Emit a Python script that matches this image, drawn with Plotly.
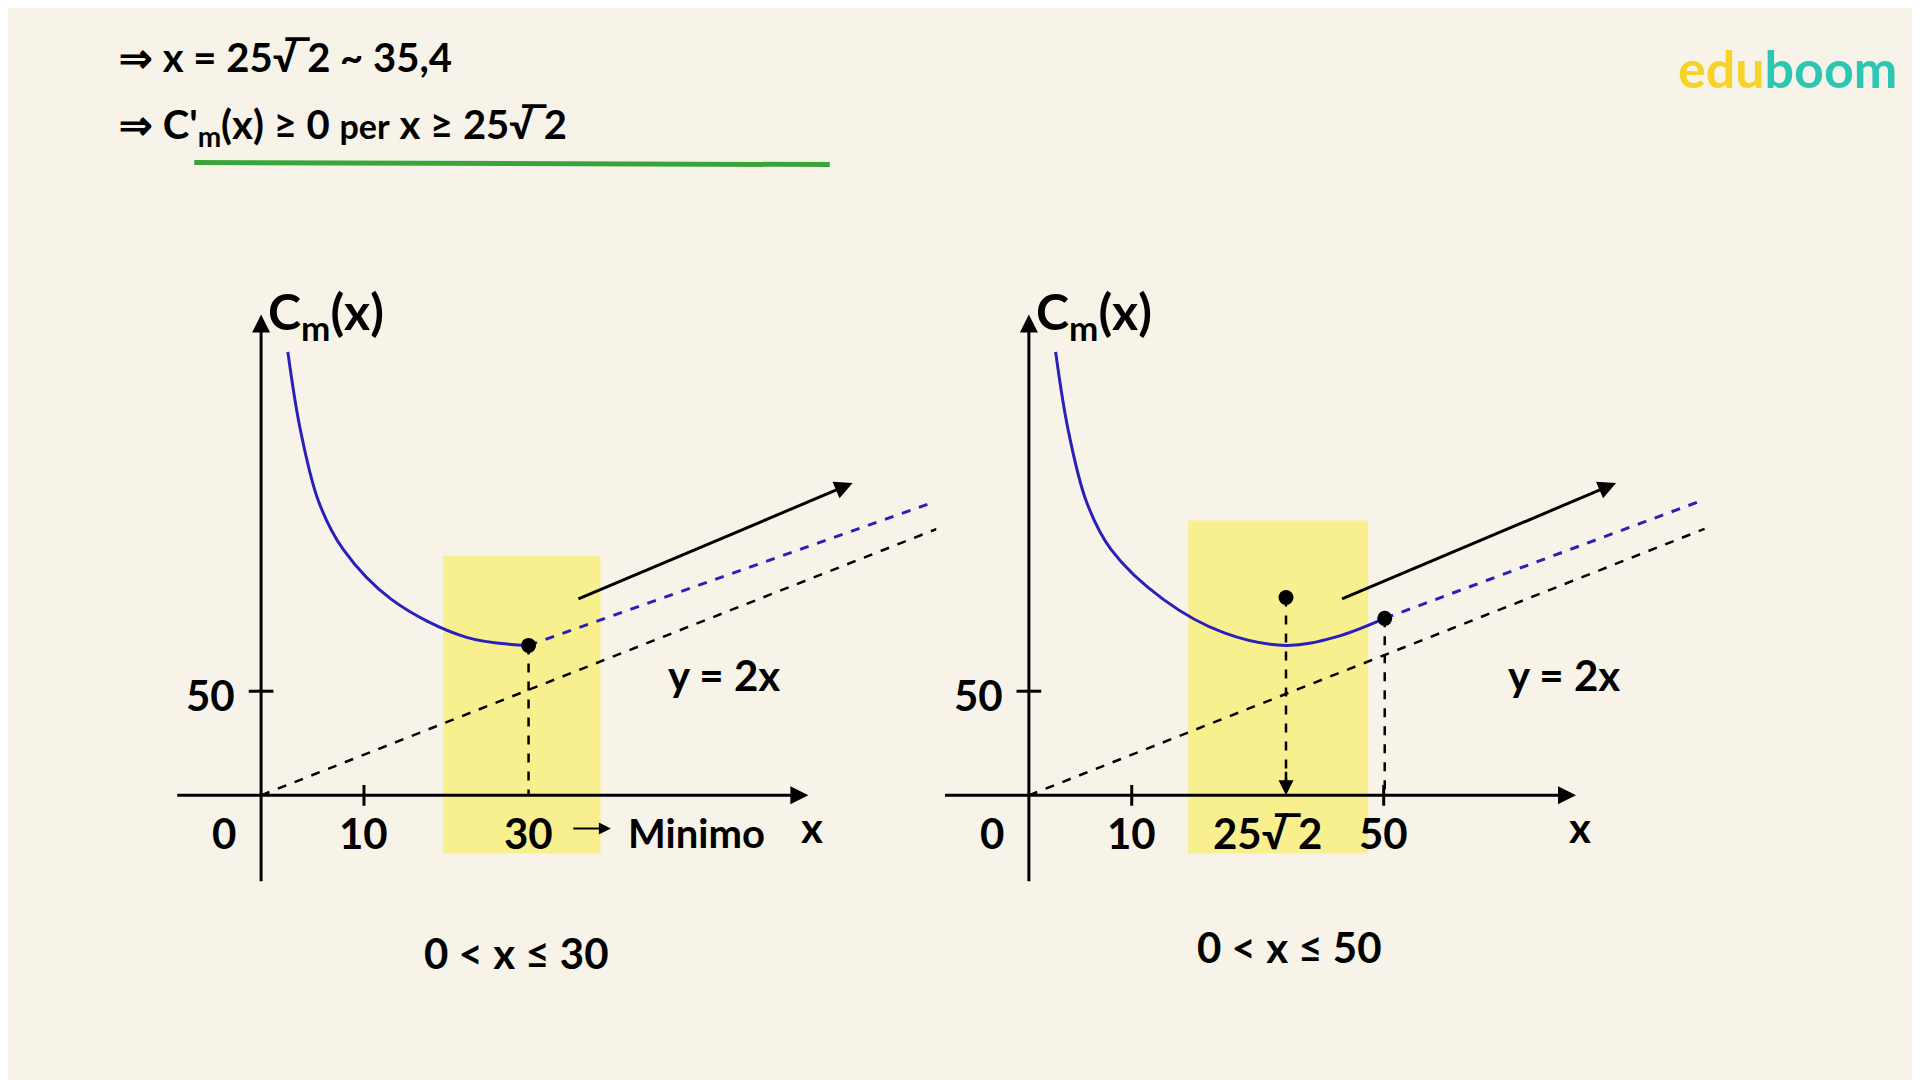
import plotly.graph_objects as go

# curve samples (x, Cm), per panel
left_x = [2.6, 3.8, 5.6, 8.0, 12.7, 19.9, 26.0]
left_y = [213, 176, 141, 118, 94, 76, 72]
left_dash_x = [26.0, 65.5]
left_dash_y = [72, 141]

right_x = [2.6, 3.8, 5.6, 8.0, 13.1, 19.0, 25.0, 29.8, 34.6]
right_y = [213, 176, 141, 118, 94, 78, 72, 76, 85]
right_dash_x = [34.6, 65.1]
right_dash_y = [85, 141]

line_x = [0, 65.7]
line_y = [0, 128]

left_ticks = [10, 26]
left_ticktext = ["10", "30"]
right_ticks = [10, 23.2, 34.5]
right_ticktext = ["10", "25\u221a\u0305 2", "50"]

blue = "#2a1fb8"
bg = "#f7f3e9"
font = "Lato"
BF = dict(family=font, size=42, color="black", weight="bold")

fig = go.Figure()
ann = []
shapes = []

def arrow(xr, yr, x, y, ax, ay, w=3):
    ann.append(dict(x=x, y=y, ax=ax, ay=ay, xref=xr, yref=yr, axref=xr, ayref=yr, text="",
                    showarrow=True, arrowhead=2, arrowwidth=w, arrowsize=1.2, arrowcolor="black"))

def panel(xa, ya, cx, cy, dx, dy, rect, dots, vlines, ticks, ticktext, ylab_x, cond, cond_x, cond_y):
    xr, yr = xa.replace("axis", ""), ya.replace("axis", "")
    shapes.append(dict(type="rect", xref=xr, yref=yr, x0=rect[0], x1=rect[1], y0=-28, y1=rect[2],
                       fillcolor="#f8ee7e", opacity=0.85, line_width=0, layer="below"))
    fig.add_trace(go.Scatter(x=line_x, y=line_y, mode="lines", line=dict(color="black", width=2.5, dash="dash"),
                             xaxis=xr, yaxis=yr, hoverinfo="skip"))
    fig.add_trace(go.Scatter(x=cx, y=cy, mode="lines", line=dict(color=blue, width=3, shape="spline"),
                             xaxis=xr, yaxis=yr))
    fig.add_trace(go.Scatter(x=dx, y=dy, mode="lines", line=dict(color=blue, width=3, dash="dash"),
                             xaxis=xr, yaxis=yr))
    for vx, vy, head in vlines:
        fig.add_trace(go.Scatter(x=[vx, vx], y=[vy, 4 if head else 0], mode="lines",
                                 line=dict(color="black", width=2.5, dash="dash"), xaxis=xr, yaxis=yr))
        if head:
            arrow(xr, yr, vx, 0, vx, 12, 2.5)
    fig.add_trace(go.Scatter(x=[d[0] for d in dots], y=[d[1] for d in dots], mode="markers",
                             marker=dict(color="black", size=15), xaxis=xr, yaxis=yr))
    # axes arrows
    arrow(xr, yr, 53.2, 0, -8.3, 0)
    arrow(xr, yr, 0, 231, 0, -42)
    # trend arrow
    arrow(xr, yr, dx[1] - 8, 150, (dx[1] - 8) - 26.8, 94)
    tk = [ticks[0]] + ([ticks[-1]] if len(ticks) > 2 else [])
    for t in tk:
        shapes.append(dict(type="line", xref=xr, yref=yr, x0=t, x1=t, y0=-5, y1=5,
                           line=dict(width=3, color="black")))
    shapes.append(dict(type="line", xref=xr, yref=yr, x0=-1.2, x1=1.2, y0=50, y1=50,
                       line=dict(width=3, color="black")))
    txt = dict(xref=xr, yref=yr, showarrow=False, font=BF)
    for t, s in zip(ticks, ticktext):
        ann.append(dict(x=t, y=-18, text=s, **txt))
    ann.append(dict(x=-3.6, y=-18, text="0", **txt))
    ann.append(dict(x=-4.9, y=48, text="50", **txt))
    ann.append(dict(x=53.6, y=-15, text="x", **txt))
    ann.append(dict(x=0.5, y=231, text="C<sub>m</sub>(x)", xanchor="left", xref=xr, yref=yr,
                    showarrow=False, font={**BF, "size": 50}))
    ann.append(dict(x=ylab_x, y=58, text="y = 2x", **txt))
    ann.append(dict(x=cond_x, y=cond_y, text=cond, **txt))

panel("xaxis", "yaxis", left_x, left_y, left_dash_x, left_dash_y, (17.7, 33, 115),
      [(26.0, 72)], [(26.0, 72, False)], left_ticks, left_ticktext, 45, "0 < x \u2264 30", 24.8, -76)
panel("xaxis2", "yaxis2", right_x, right_y, right_dash_x, right_dash_y, (15.5, 33, 132),
      [(25.0, 95), (34.6, 85)], [(25.0, 95, True), (34.6, 85, False)], right_ticks, right_ticktext, 52,
      "0 < x \u2264 50", 25.3, -73)

# "→ Minimo" label on left panel
ann.append(dict(x=35.5, y=-18, text="Minimo", xref="x", yref="y", showarrow=False, xanchor="left",
                font={**BF, "size": 40}))
arrow("x", "y", 34, -16, 30.2, -16, 2)

top = dict(xref="paper", yref="paper", showarrow=False, xanchor="left", font={**BF, "size": 40})
ann.append(dict(x=0.057, y=0.948 + 0.031, text="\u21d2 x = 25\u221a\u0305 2 ~ 35,4", **top))
ann.append(dict(x=0.057, y=0.886 + 0.031, text="\u21d2 C'<sub>m</sub>(x) \u2265 0 <span style='font-size:34px'>per</span> x \u2265 25\u221a\u0305 2", **top))
shapes.append(dict(type="line", xref="paper", yref="paper", x0=0.097, x1=0.428, y0=0.857, y1=0.855,
                   line=dict(color="#3aa63a", width=5)))
ann.append(dict(x=0.985, y=0.975, xref="paper", yref="paper", showarrow=False, xanchor="right",
                text="<span style='color:#f5d327'>edu</span><span style='color:#2cc7b2'>boom</span>",
                font=dict(family=font, size=52, weight="bold")))

ax_common = dict(visible=False, range=[-9, 67])
ay_common = dict(visible=False, range=[-85, 240])
fig.update_layout(
    width=1920, height=1080, paper_bgcolor=bg, plot_bgcolor=bg, showlegend=False,
    margin=dict(l=0, r=0, t=0, b=0),
    xaxis=dict(domain=[0.0836, 0.4908], anchor="y", **ax_common),
    yaxis=dict(domain=[0.1072, 0.7336], anchor="x", **ay_common),
    xaxis2=dict(domain=[0.4835, 0.8906], anchor="y2", **ax_common),
    yaxis2=dict(domain=[0.1072, 0.7336], anchor="x2", **ay_common),
    annotations=ann, shapes=shapes,
)
fig.write_html("out.html")
